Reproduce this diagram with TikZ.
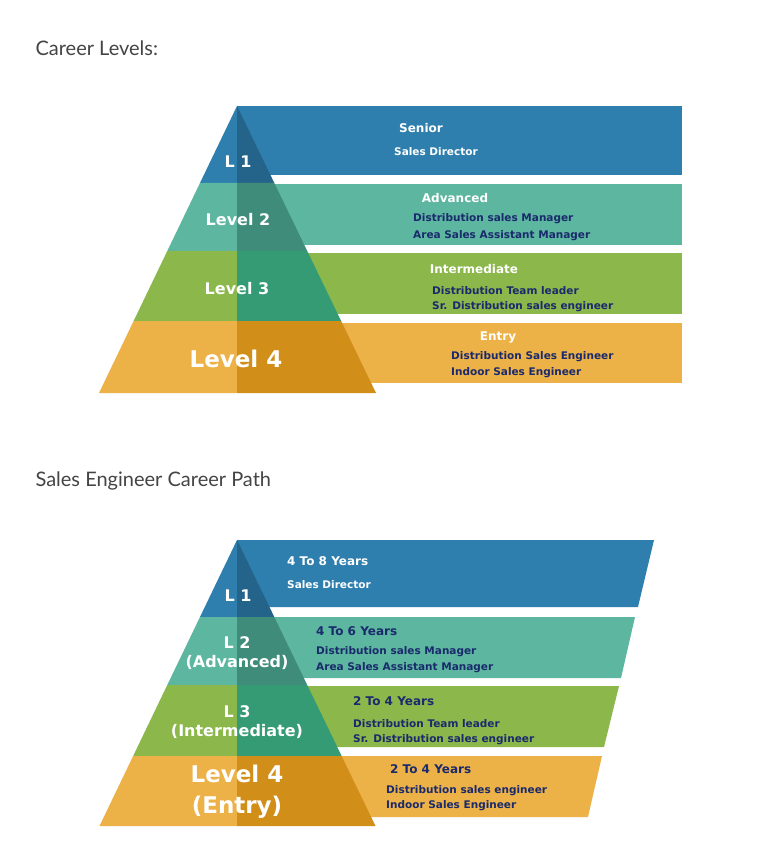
\documentclass[tikz,border=0pt]{standalone}
\usepackage{fontspec}
\setmainfont{DejaVu Sans}
\newfontfamily\titlefont{Lato}
\usetikzlibrary{positioning}

\definecolor{blueL}{HTML}{2E7FAD}
\definecolor{blueD}{HTML}{25648A}
\definecolor{tealL}{HTML}{5DB6A0}
\definecolor{tealD}{HTML}{3F8C7B}
\definecolor{greenL}{HTML}{8BB74B}
\definecolor{greenD}{HTML}{349B74}
\definecolor{orangeL}{HTML}{EDB247}
\definecolor{orangeD}{HTML}{D18F1A}
\definecolor{navy}{HTML}{1A2A6C}
\definecolor{titlegray}{HTML}{444444}

\tikzset{
  title/.style={anchor=west,font=\titlefont\fontsize{20}{24}\selectfont,text=titlegray},
  head/.style={font=\bfseries\fontsize{12}{14}\selectfont,inner sep=0pt},
  item/.style={anchor=west,font=\bfseries\fontsize{10.5}{12}\selectfont,text=navy,inner sep=0pt},
  lvl/.style={align=center,text=white,font=\bfseries\fontsize{16}{19}\selectfont,inner sep=0pt},
  bigl/.style={lvl,font=\bfseries\fontsize{23}{31}\selectfont},
}

% one tier of the pyramid, between rows #1 and #2
\newcommand{\tier}[4]{%
  \pgfmathsetmacro{\xa}{237-(#1-106)/287*138}
  \pgfmathsetmacro{\xb}{237-(#2-106)/287*138}
  \pgfmathsetmacro{\xc}{237+(#1-106)/287*139}
  \pgfmathsetmacro{\xd}{237+(#2-106)/287*139}
  \fill[#3] (\xa,#1) -- (237,#1) -- (237,#2) -- (\xb,#2) -- cycle;
  \fill[#4] (237,#1) -- (\xc,#1) -- (\xd,#2) -- (237,#2) -- cycle;
}

\begin{document}
\begin{tikzpicture}[x=1pt,y=-1pt]
  \useasboundingbox[fill=white] (0,0) rectangle (768,866);

  % ---- Career Levels ----
  \node[title] (t1) at (32,48) {Career Levels:};

  \fill[blueL] (237,106) rectangle (682,175);
  \fill[tealL] (237,184) rectangle (682,245);
  \fill[greenL] (237,253) rectangle (682,314);
  \fill[orangeL] (237,323) rectangle (682,383);

  \tier{106}{183}{blueL}{blueD}
  \tier{183}{251}{tealL}{tealD}
  \tier{251}{321}{greenL}{greenD}
  \tier{321}{393}{orangeL}{orangeD}

  \node[lvl] (l1) at (238,162) {L 1};
  \node[lvl] (l2) at (238,220) {Level 2};
  \node[lvl] (l3) at (237,289) {Level 3};
  \node[bigl] (l4) at (236,359) {Level 4};

  \node[head,text=white] (senior) at (421,128) {Senior};
  \node[item,text=white] (sd) at (394,152) {Sales Director};
  \node[head,text=white] (adv) at (455,198) {Advanced};
  \node[item] (dsm) at (413,219) {Distribution sales Manager};
  \node[item] (asam) at (413,236) {Area Sales Assistant Manager};
  \node[head,text=white] (inter) at (474,269) {Intermediate};
  \node[item] (dtl) at (432,291) {Distribution Team leader};
  \node[item] (sdse) at (432,307) {Sr. Distribution sales engineer};
  \node[head,text=white] (entry) at (498,337) {Entry};
  \node[item] (dse) at (451,357) {Distribution Sales Engineer};
  \node[item] (ise) at (451,373) {Indoor Sales Engineer};

  % ---- Career Path ----
  \node[title] (t2) at (32,481) {Sales Engineer Career Path};

  \begin{scope}[shift={(0,434)}]
    \fill[blueL] (237,106) -- (654,106) -- (638,173) -- (237,173) -- cycle;
    \fill[tealL] (237,183) -- (635,183) -- (621,244) -- (237,244) -- cycle;
    \fill[greenL] (237,252) -- (619,252) -- (604,313) -- (237,313) -- cycle;
    \fill[orangeL] (237,322) -- (602,322) -- (588,383) -- (237,383) -- cycle;

    \tier{106}{183}{blueL}{blueD}
    \tier{183}{251}{tealL}{tealD}
    \tier{251}{322}{greenL}{greenD}
    \tier{322}{392}{orangeL}{orangeD}
  \end{scope}

  \node[lvl] (p1) at (238,596) {L 1};
  \node[lvl] (p2) at (237,653) {L 2\\(Advanced)};
  \node[lvl] (p3) at (237,722) {L 3\\(Intermediate)};
  \node[bigl] (p4) at (237,792) {Level 4\\(Entry)};

  \node[item,text=white,font=\bfseries\fontsize{12}{14}\selectfont] (y1) at (287,561) {4 To 8 Years};
  \node[item,text=white] (psd) at (287,585) {Sales Director};
  \node[item,font=\bfseries\fontsize{12}{14}\selectfont] (y2) at (316,631) {4 To 6 Years};
  \node[item] (pdsm) at (316,652) {Distribution sales Manager};
  \node[item] (pasam) at (316,668) {Area Sales Assistant Manager};
  \node[item,font=\bfseries\fontsize{12}{14}\selectfont] (y3) at (353,701) {2 To 4 Years};
  \node[item] (pdtl) at (353,724) {Distribution Team leader};
  \node[item] (psdse) at (353,740) {Sr. Distribution sales engineer};
  \node[item,font=\bfseries\fontsize{12}{14}\selectfont] (y4) at (390,769) {2 To 4 Years};
  \node[item] (pdse) at (386,791) {Distribution sales engineer};
  \node[item] (pise) at (386,806) {Indoor Sales Engineer};
\end{tikzpicture}
\end{document}
